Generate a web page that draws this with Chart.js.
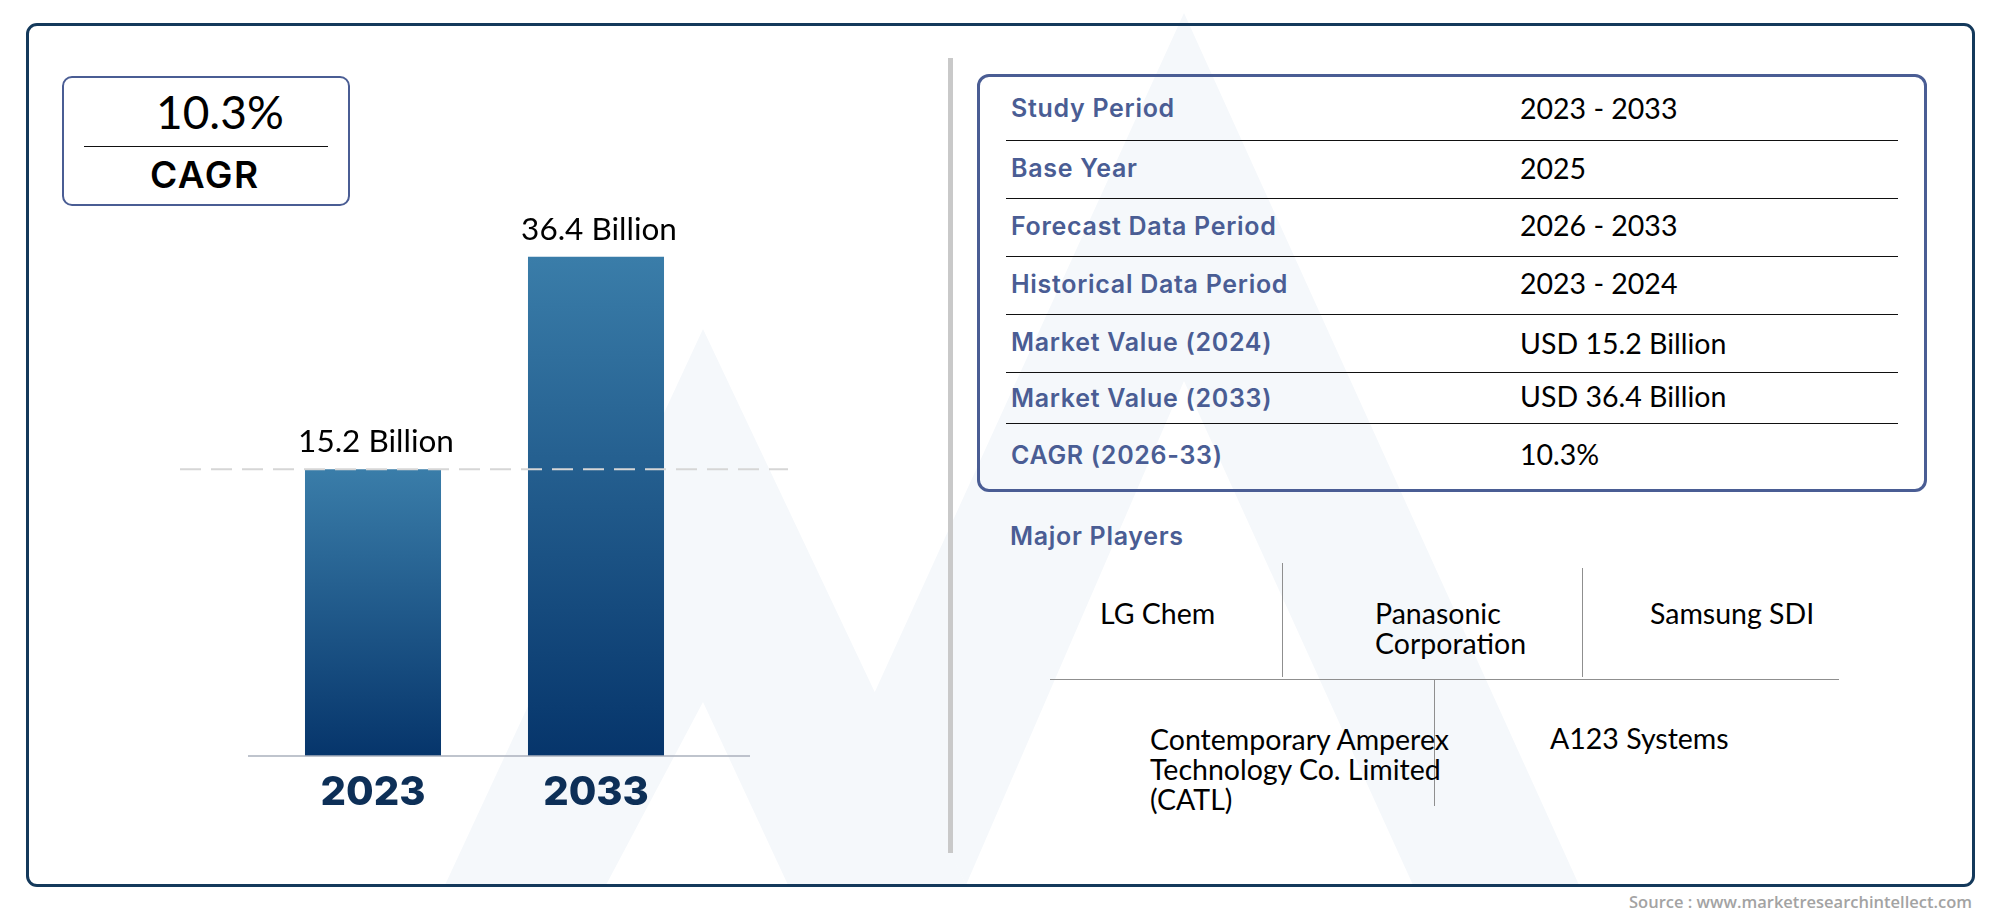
<!DOCTYPE html>
<html>
<head>
<meta charset="utf-8">
<script src="https://cdn.jsdelivr.net/npm/chart.js@4"></script>
<style>
  html, body { margin: 0; background: #fff; overflow: hidden; }
  #page { position: relative; width: 2000px; height: 917px; overflow: hidden; }
  #page > * { position: absolute; }
  .t { white-space: nowrap; transform: translateY(-50%); line-height: 1; color: #000; font-family: Lato, sans-serif; }
  .head { font-family: Inter, sans-serif; font-weight: 600; font-size: 25px; letter-spacing: 0.7px; color: #4a5d94; }
  .val { font-size: 28.5px; }
  .player { font-size: 28.5px; }
  .rule { background: #111; height: 1px; }
  .sep { background: #8f8f8f; }
</style>
</head>
<body>
<div id="page">
  <svg width="2000" height="917" style="left:0;top:0">
    <polygon fill="#f5f8fb" points="703,329 445,885 606,885 703,702 788,885 966,885"/>
    <polygon fill="#f5f8fb" points="1184,13 873,696 966,885 1184,381 1413,885 1579,885"/>
  </svg>
  <div style="left:26px;top:23px;width:1943px;height:858px;border:3px solid #14395b;border-radius:11px"></div>
  <div style="left:62px;top:76px;width:284px;height:126px;border:2.5px solid #4a5d94;border-radius:10px"></div>
  <div class="rule" style="left:84px;top:146px;width:244px"></div>
  <div class="t" style="left:156px;top:112px;font-size:46px">10.3%</div>
  <div class="t" style="left:150px;top:174px;font-family:Inter,sans-serif;font-weight:600;font-size:37px;letter-spacing:1.5px">CAGR</div>
  <div style="left:948px;top:58px;width:5px;height:795px;background:#c9c9c9"></div>
  <div style="left:977px;top:74px;width:944px;height:412px;border:3px solid #4a5d94;border-radius:12px"></div>
  <canvas id="chart" width="960" height="917" style="left:0;top:0"></canvas>
</div>
<script>
const years = ["2023", "2033"];
const marketValues = [15.2, 36.4];
const rowLabels = ["Study Period", "Base Year", "Forecast Data Period", "Historical Data Period", "Market Value (2024)", "Market Value (2033)", "CAGR (2026-33)"];
const rowValues = ["2023 - 2033", "2025", "2026 - 2033", "2023 - 2024", "USD 15.2 Billion", "USD 36.4 Billion", "10.3%"];
const majorPlayers = ["LG Chem", "Panasonic\nCorporation", "Samsung SDI", "Contemporary Amperex\nTechnology Co. Limited\n(CATL)", "A123 Systems"];
const sourceText = "Source : www.marketresearchintellect.com";

// Axis range that puts the bars where the picture has them (they do not start from zero there)
const Y_MIN = -13.43;
const Y_MAX = 42.06;

// layout of the right hand panel
const labelY = [108, 168, 226, 284, 342, 398, 455];
const valueY = [108, 168, 225, 283, 343, 396, 454];
const ruleY = [140, 198, 256, 314, 372, 423];
const playerPos = [[1100, 613], [1375, 613], [1650, 613], [1150, 739], [1550, 738]];
const sepLines = [[1282, 563, 1, 114], [1582, 568, 1, 109], [1050, 679, 789, 1], [1434, 680, 1, 126]];

const page = document.getElementById("page");

function addText(text, x, y, cls) {
  const d = document.createElement("div");
  d.className = "t " + cls;
  d.style.left = x + "px";
  d.style.top = y + "px";
  d.textContent = text;
  page.appendChild(d);
  return d;
}

rowLabels.forEach((s, i) => addText(s, 1011, labelY[i], "head"));
rowValues.forEach((s, i) => addText(s, 1520, valueY[i], "val"));
ruleY.forEach(y => {
  const d = document.createElement("div");
  d.className = "rule";
  d.style.cssText = `left:1006px;top:${y}px;width:892px`;
  page.appendChild(d);
});
sepLines.forEach(l => {
  const d = document.createElement("div");
  d.className = "sep";
  d.style.cssText = `left:${l[0]}px;top:${l[1]}px;width:${l[2]}px;height:${l[3]}px`;
  page.appendChild(d);
});
addText("Major Players", 1010, 536, "head");
majorPlayers.forEach((p, i) => {
  p.split("\n").forEach((line, j) => {
    addText(line, playerPos[i][0], playerPos[i][1] + j * 30, "player");
  });
});
const src = addText(sourceText, 0, 902, "");
src.style.cssText += ";left:auto;right:28px;font-family:'Open Sans',sans-serif;font-size:16.5px;font-weight:600;color:#a3a3a3";

// Dashed reference line, base line and value labels
const chartExtras = {
  id: "chartExtras",
  afterDatasetsDraw(chart) {
    const { ctx, scales: { y } } = chart;
    const meta = chart.getDatasetMeta(0);
    ctx.save();
    ctx.strokeStyle = "#d6d6d6";
    ctx.lineWidth = 2;
    ctx.setLineDash([21, 10]);
    ctx.beginPath();
    ctx.moveTo(180, y.getPixelForValue(marketValues[0]));
    ctx.lineTo(788, y.getPixelForValue(marketValues[0]));
    ctx.stroke();
    ctx.setLineDash([]);
    ctx.strokeStyle = "#aab0bc";
    ctx.lineWidth = 1.5;
    ctx.beginPath();
    ctx.moveTo(248, y.bottom);
    ctx.lineTo(750, y.bottom);
    ctx.stroke();
    ctx.fillStyle = "#000";
    ctx.font = "31.5px Lato";
    ctx.textAlign = "center";
    ctx.textBaseline = "middle";
    meta.data.forEach((bar, i) => {
      ctx.fillText(marketValues[i] + " Billion", bar.x + 3, bar.y - 27);
    });
    ctx.restore();
  }
};

function barGradient(c) {
  const { chart, raw } = c;
  if (!chart.chartArea || raw === undefined) return "#1d5a8c";
  const y = chart.scales.y;
  const g = chart.ctx.createLinearGradient(0, y.getPixelForValue(raw), 0, y.bottom);
  g.addColorStop(0, "#3a7da9");
  g.addColorStop(1, "#06356b");
  return g;
}

new Chart(document.getElementById("chart"), {
  type: "bar",
  data: {
    labels: years,
    datasets: [{
      label: "Market value",
      data: marketValues,
      base: Y_MIN,
      backgroundColor: barGradient,
      barPercentage: 0.61,
      categoryPercentage: 1,
    }]
  },
  plugins: [chartExtras],
  options: {
    responsive: false,
    animation: false,
    layout: { padding: { left: 261.5, right: 252.5, top: 200, bottom: 111 } },
    plugins: { legend: { display: false }, tooltip: { enabled: false } },
    scales: {
      x: {
        grid: { display: false, drawTicks: false },
        border: { display: false },
        afterFit: s => { s.height = 50; },
        ticks: { color: "#0d2f57", padding: 13, font: { family: "Inter", weight: "800", size: 40 } }
      },
      y: { display: false, min: Y_MIN, max: Y_MAX }
    }
  }
});
</script>
</body>
</html>
